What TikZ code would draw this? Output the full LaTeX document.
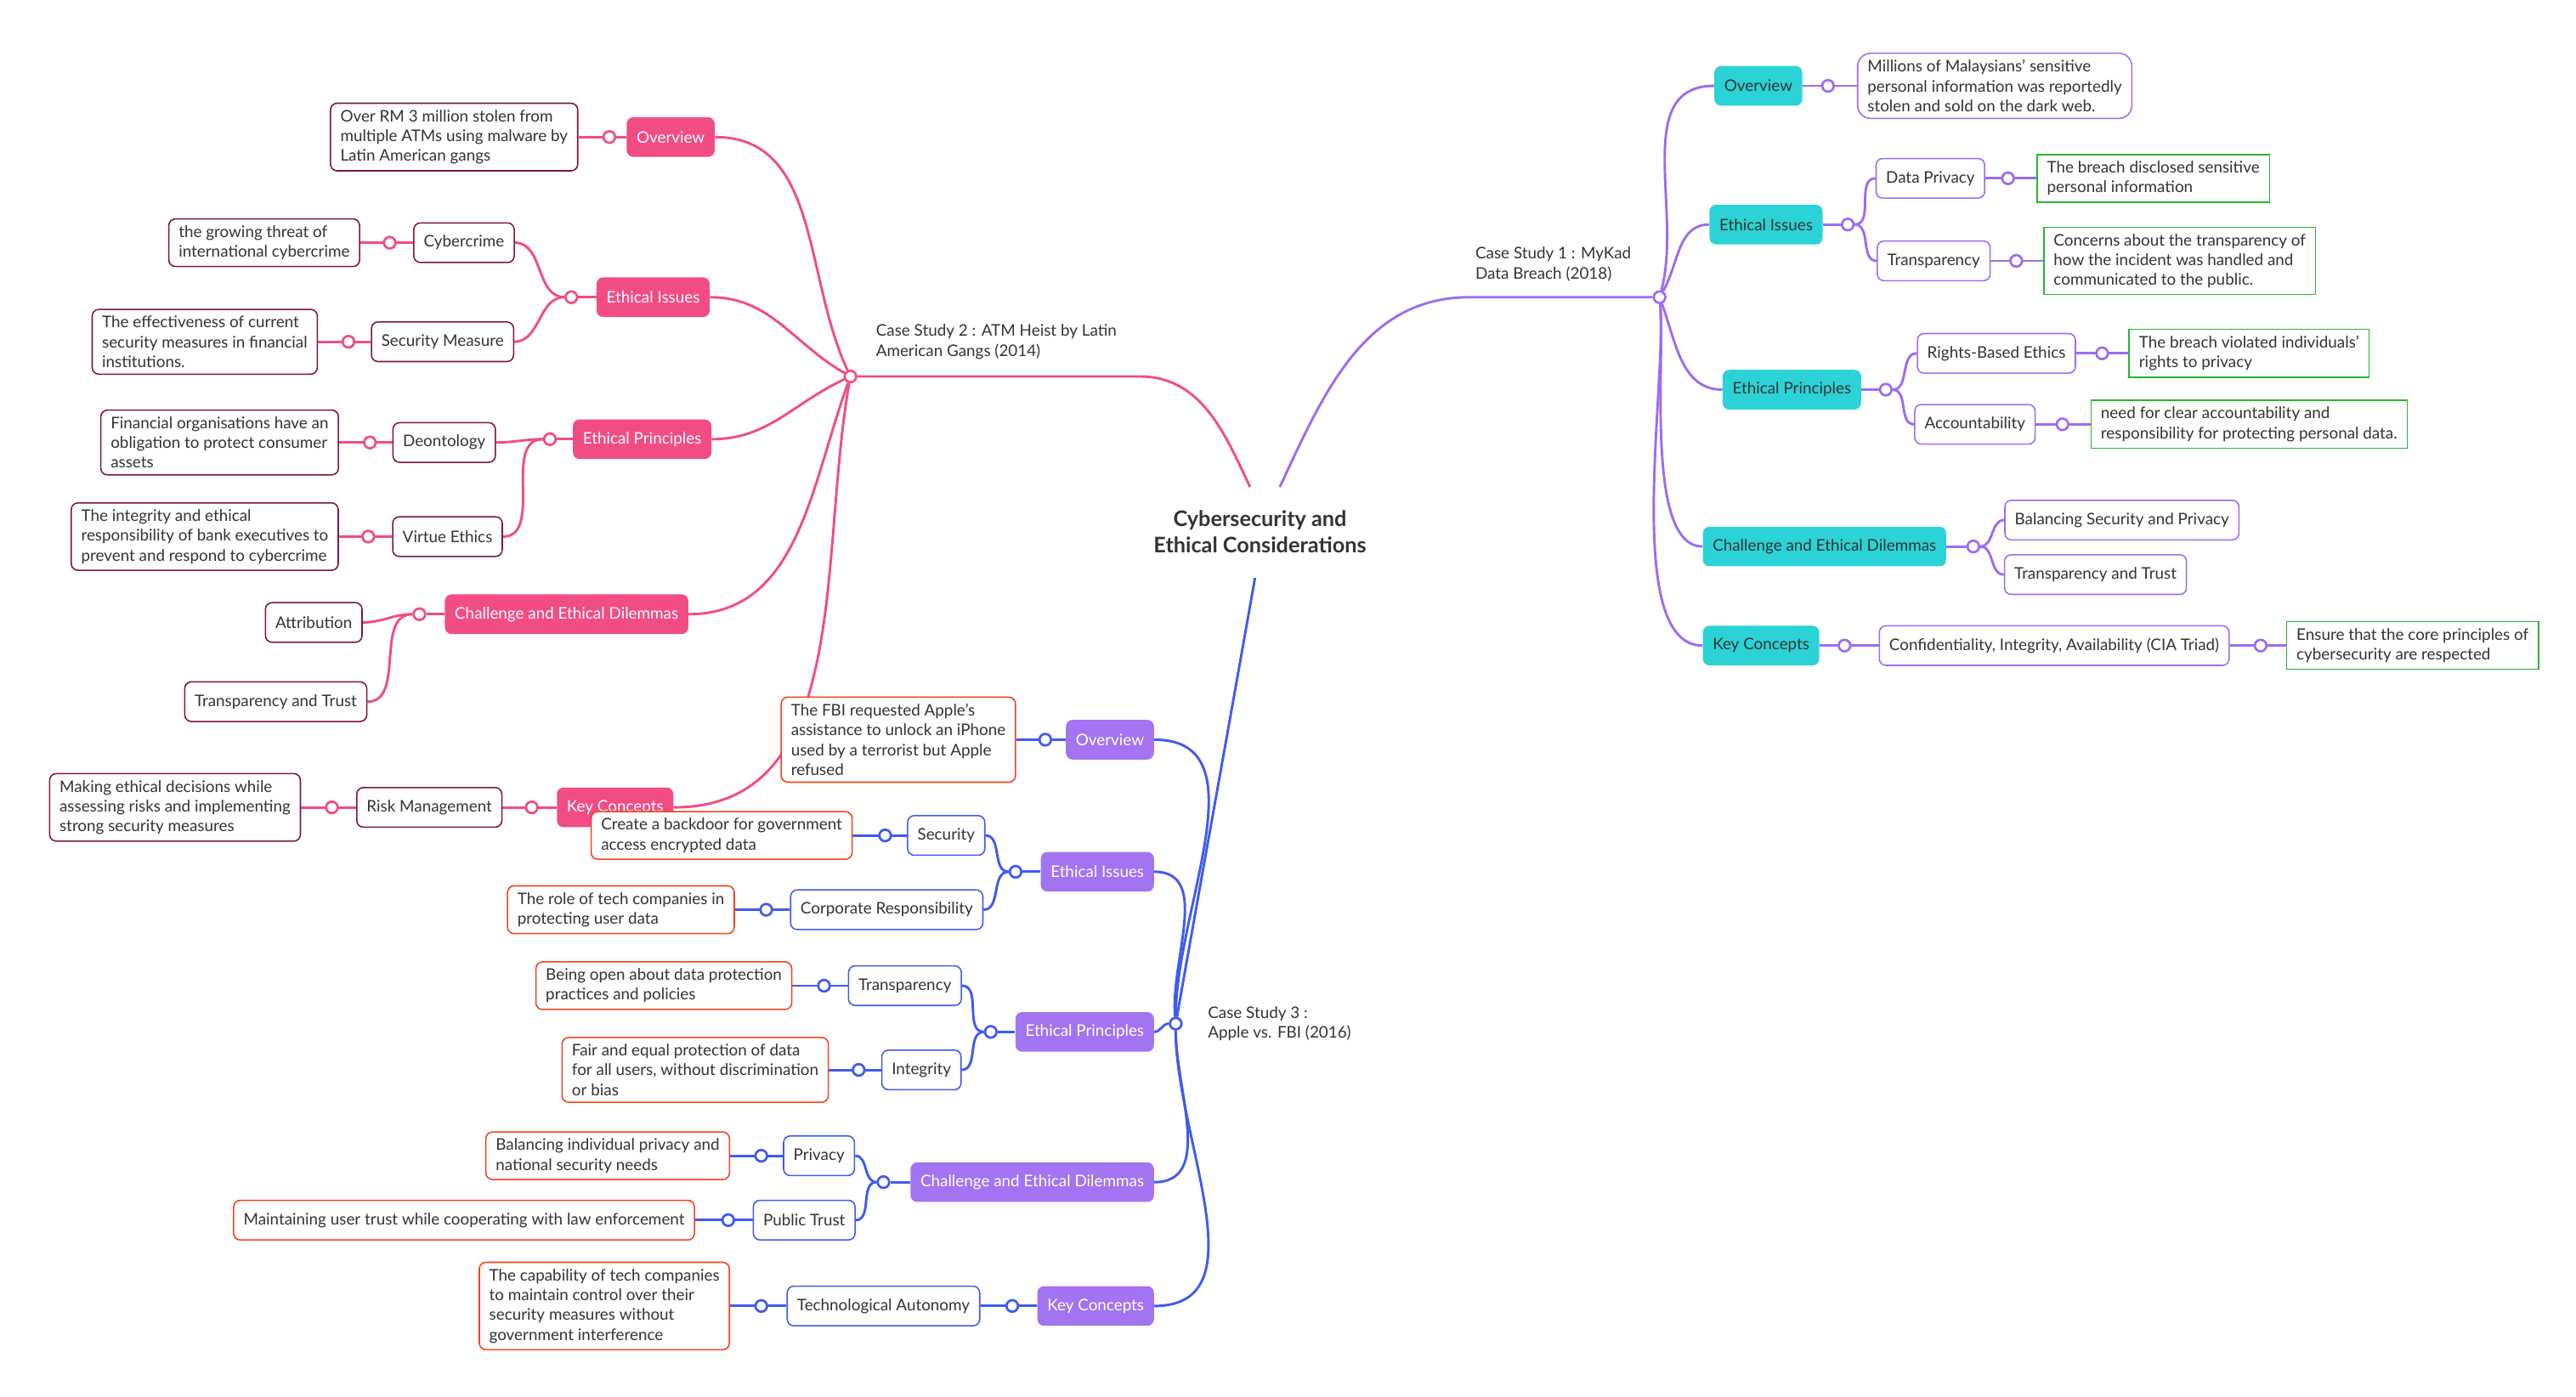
\documentclass[tikz,border=0pt]{standalone}
\usepackage{fontspec}
\setmainfont{Lato}
\usetikzlibrary{backgrounds}
\definecolor{teal1}{HTML}{2CD3D6}
\definecolor{pur1}{HTML}{9D6CF0}
\definecolor{pink2}{HTML}{F24C86}
\definecolor{dred}{HTML}{7E1736}
\definecolor{pur3}{HTML}{A274F1}
\definecolor{blue3}{HTML}{3F5BF0}
\definecolor{red3}{HTML}{F0431C}
\definecolor{grn}{HTML}{2BB52B}
\definecolor{txt}{HTML}{333333}
\tikzset{
 every node/.style={font=\fontsize{9.7}{12}\selectfont, text=txt},
 base/.style={rounded corners=4pt, inner xsep=6pt, inner ysep=4pt, minimum height=24pt},
 cat1/.style={base, fill=teal1},
 cat2/.style={base, fill=pink2, text=white},
 cat3/.style={base, fill=pur3, text=white},
 sub1/.style={base, draw=pur1, fill=white, line width=0.8pt},
 sub2/.style={base, draw=dred, fill=white, line width=0.8pt},
 sub3/.style={base, draw=blue3, fill=white, line width=0.8pt},
 lf1/.style={base, draw=grn, fill=white, rounded corners=0pt, align=left, line width=0.8pt},
 lfp/.style={base, draw=pur1, fill=white, rounded corners=8pt, align=left, line width=0.8pt},
 lf2/.style={base, draw=dred, fill=white, align=left, line width=0.8pt},
 lf3/.style={base, draw=red3, fill=white, align=left, line width=0.8pt},
 dot/.style={circle, draw, line width=1.4pt, fill=white, inner sep=0pt, minimum size=7pt},
 l1/.style={draw=pur1, line width=1.5pt},
 l2/.style={draw=pink2, line width=1.5pt},
 l3/.style={draw=blue3, line width=1.5pt},
 lab/.style={align=left, anchor=west},
}
\begin{document}
\begin{tikzpicture}[x=1pt,y=-1pt]
\useasboundingbox (0,0) rectangle (1560,846);
\node[font=\fontsize{13}{16}\selectfont\bfseries, align=center] (root) at (763,322) {Cybersecurity and\\Ethical Considerations};
\coordinate (r1) at (775,295);
\coordinate (r2) at (757,295);
\coordinate (r3) at (760,350);

% ---------- Case 1
\node[lab] (cs1) at (890,160) {Case Study 1 : MyKad\\Data Breach (2018)};
\coordinate (h1) at (890,180);
\node[dot, draw=pur1] (j1) at (1005,180) {};
\node[cat1, anchor=west] (o1) at (1038,52) {Overview};
\node[dot, draw=pur1] (o1c) at (1107,52) {};
\node[lfp] (o1l) at (1208,52) {Millions of Malaysians' sensitive\\personal information was reportedly\\stolen and sold on the dark web.};
\node[cat1, anchor=west] (e1) at (1035,136) {Ethical Issues};
\node[dot, draw=pur1] (e1c) at (1119,136) {};
\node[sub1] (dp) at (1169,108) {Data Privacy};
\node[dot, draw=pur1] (dpc) at (1216,108) {};
\node[lf1] (dpl) at (1304,108) {The breach disclosed sensitive\\personal information};
\node[sub1] (tr1) at (1171,158) {Transparency};
\node[dot, draw=pur1] (tr1c) at (1221,158) {};
\node[lf1] (tr1l) at (1320,158) {Concerns about the transparency of\\how the incident was handled and\\communicated to the public.};
\node[cat1, anchor=west] (p1) at (1043,236) {Ethical Principles};
\node[dot, draw=pur1] (p1c) at (1142,236) {};
\node[sub1] (rb) at (1209,214) {Rights-Based Ethics};
\node[dot, draw=pur1] (rbc) at (1273,214) {};
\node[lf1] (rbl) at (1362,214) {The breach violated individuals'\\rights to privacy};
\node[sub1] (ac) at (1196,257) {Accountability};
\node[dot, draw=pur1] (acc) at (1249,257) {};
\node[lf1] (acl) at (1362,257) {need for clear accountability and\\responsibility for protecting personal data.};
\node[cat1, anchor=west] (d1) at (1031,331) {Challenge and Ethical Dilemmas};
\node[dot, draw=pur1] (d1c) at (1195,331) {};
\node[sub1] (bs) at (1285,315) {Balancing Security and Privacy};
\node[sub1] (tt1) at (1269,348) {Transparency and Trust};
\node[cat1, anchor=west] (k1) at (1031,391) {Key Concepts};
\node[dot, draw=pur1] (k1c) at (1117,391) {};
\node[sub1] (cia) at (1244,391) {Confidentiality, Integrity, Availability (CIA Triad)};
\node[dot, draw=pur1] (ciac) at (1369,391) {};
\node[lf1] (cial) at (1461,391) {Ensure that the core principles of\\cybersecurity are respected};

% ---------- Case 2
\node[lab] (cs2) at (527,207) {Case Study 2 : ATM Heist by Latin\\American Gangs (2014)};
\coordinate (h2) at (690,228);
\node[dot, draw=pink2] (j2) at (515,228) {};
\node[cat2, anchor=east] (o2) at (433,83) {Overview};
\node[dot, draw=pink2] (o2c) at (369,83) {};
\node[lf2] (o2l) at (275,83) {Over RM 3 million stolen from\\multiple ATMs using malware by\\Latin American gangs};
\node[cat2, anchor=east] (e2) at (430,180) {Ethical Issues};
\node[dot, draw=pink2] (e2c) at (346,180) {};
\node[sub2] (cy) at (281,147) {Cybercrime};
\node[dot, draw=pink2] (cyc) at (236,147) {};
\node[lf2] (cyl) at (160,147) {the growing threat of\\international cybercrime};
\node[sub2] (sm) at (268,207) {Security Measure};
\node[dot, draw=pink2] (smc) at (211,207) {};
\node[lf2] (sml) at (124,207) {The effectiveness of current\\security measures in financial\\institutions.};
\node[cat2, anchor=east] (p2) at (431,266) {Ethical Principles};
\node[dot, draw=pink2] (p2c) at (333,266) {};
\node[sub2] (de) at (269,268) {Deontology};
\node[dot, draw=pink2] (dec) at (224,268) {};
\node[lf2] (del) at (133,268) {Financial organisations have an\\obligation to protect consumer\\assets};
\node[sub2] (ve) at (271,325) {Virtue Ethics};
\node[dot, draw=pink2] (vec) at (223,325) {};
\node[lf2] (vel) at (124,325) {The integrity and ethical\\responsibility of bank executives to\\prevent and respond to cybercrime};
\node[cat2, anchor=east] (d2) at (417,372) {Challenge and Ethical Dilemmas};
\node[dot, draw=pink2] (d2c) at (254,372) {};
\node[sub2] (at) at (190,377) {Attribution};
\node[sub2] (tt2) at (167,425) {Transparency and Trust};
\node[cat2, anchor=east] (k2) at (408,489) {Key Concepts};
\node[dot, draw=pink2] (k2c) at (322,489) {};
\node[sub2] (rm) at (260,489) {Risk Management};
\node[dot, draw=pink2] (rmc) at (201,489) {};
\node[lf2] (rml) at (106,489) {Making ethical decisions while\\assessing risks and implementing\\strong security measures};

% ---------- Case 3
\node[dot, draw=blue3] (j3) at (712,620) {};
\node[lab] (cs3) at (728,620) {Case Study 3 :\\Apple vs. FBI (2016)};
\node[cat3, anchor=east] (o3) at (699,448) {Overview};
\node[dot, draw=blue3] (o3c) at (633,448) {};
\node[lf3] (o3l) at (544,448) {The FBI requested Apple's\\assistance to unlock an iPhone\\used by a terrorist but Apple\\refused};
\node[cat3, anchor=east] (e3) at (699,528) {Ethical Issues};
\node[dot, draw=blue3] (e3c) at (615,528) {};
\node[sub3] (se) at (573,506) {Security};
\node[dot, draw=blue3] (sec) at (536,506) {};
\node[lf3] (sel) at (437,506) {Create a backdoor for government\\access encrypted data};
\node[sub3] (cr) at (537,551) {Corporate Responsibility};
\node[dot, draw=blue3] (crc) at (464,551) {};
\node[lf3] (crl) at (376,551) {The role of tech companies in\\protecting user data};
\node[cat3, anchor=east] (p3) at (699,625) {Ethical Principles};
\node[dot, draw=blue3] (p3c) at (600,625) {};
\node[sub3] (tr3) at (548,597) {Transparency};
\node[dot, draw=blue3] (tr3c) at (499,597) {};
\node[lf3] (tr3l) at (402,597) {Being open about data protection\\practices and policies};
\node[sub3] (in) at (558,648) {Integrity};
\node[dot, draw=blue3] (inc) at (520,648) {};
\node[lf3] (inl) at (421,648) {Fair and equal protection of data\\for all users, without discrimination\\or bias};
\node[cat3, anchor=east] (d3) at (699,716) {Challenge and Ethical Dilemmas};
\node[dot, draw=blue3] (d3c) at (535,716) {};
\node[sub3] (pr) at (496,700) {Privacy};
\node[dot, draw=blue3] (prc) at (461,700) {};
\node[lf3] (prl) at (368,700) {Balancing individual privacy and\\national security needs};
\node[sub3] (pt) at (487,739) {Public Trust};
\node[dot, draw=blue3] (ptc) at (441,739) {};
\node[lf3] (ptl) at (281,739) {Maintaining user trust while cooperating with law enforcement};
\node[cat3, anchor=east] (k3) at (699,791) {Key Concepts};
\node[dot, draw=blue3] (k3c) at (613,791) {};
\node[sub3] (ta) at (535,791) {Technological Autonomy};
\node[dot, draw=blue3] (tac) at (461,791) {};
\node[lf3] (tal) at (366,791) {The capability of tech companies\\to maintain control over their\\security measures without\\government interference};

\begin{pgfonlayer}{background}
% case 1
\draw[l1] (r1) to[out=65,in=180] (h1) -- (j1);
\draw[l1] (j1) to[out=75,in=180] (o1.west);
\draw[l1] (j1) to[out=60,in=180] (e1.west);
\draw[l1] (j1) to[out=-70,in=180] (p1.west);
\draw[l1] (j1) to[out=-85,in=180,looseness=0.6] (d1.west);
\draw[l1] (j1) to[out=-85,in=180,looseness=0.6] (k1.west);
\draw[l1] (o1.east) -- (o1l.west);
\draw[l1] (e1.east) -- (e1c);
\draw[l1] (e1c) to[out=0,in=180] (dp.west);
\draw[l1] (e1c) to[out=0,in=180] (tr1.west);
\draw[l1] (dp.east) -- (dpl.west);
\draw[l1] (tr1.east) -- (tr1l.west);
\draw[l1] (p1.east) -- (p1c);
\draw[l1] (p1c) to[out=0,in=180] (rb.west);
\draw[l1] (p1c) to[out=0,in=180] (ac.west);
\draw[l1] (rb.east) -- (rbl.west);
\draw[l1] (ac.east) -- (acl.west);
\draw[l1] (d1.east) -- (d1c);
\draw[l1] (d1c) to[out=0,in=180] (bs.west);
\draw[l1] (d1c) to[out=0,in=180] (tt1.west);
\draw[l1] (k1.east) -- (cia.west);
\draw[l1] (cia.east) -- (cial.west);
% case 2
\draw[l2] (r2) to[out=115,in=0] (h2) -- (j2);
\draw[l2] (j2) to[out=115,in=0] (o2.east);
\draw[l2] (j2) to[out=150,in=0] (e2.east);
\draw[l2] (j2) to[out=-155,in=0] (p2.east);
\draw[l2] (j2) to[out=-110,in=0] (d2.east);
\draw[l2] (j2) to[out=-100,in=0] (k2.east);
\draw[l2] (o2.west) -- (o2l.east);
\draw[l2] (e2.west) -- (e2c);
\draw[l2] (e2c) to[out=180,in=0] (cy.east);
\draw[l2] (e2c) to[out=180,in=0] (sm.east);
\draw[l2] (cy.west) -- (cyl.east);
\draw[l2] (sm.west) -- (sml.east);
\draw[l2] (p2.west) -- (p2c);
\draw[l2] (p2c) to[out=180,in=0] (de.east);
\draw[l2] (p2c) to[out=180,in=0] (ve.east);
\draw[l2] (de.west) -- (del.east);
\draw[l2] (ve.west) -- (vel.east);
\draw[l2] (d2.west) -- (d2c);
\draw[l2] (d2c) to[out=180,in=0] (at.east);
\draw[l2] (d2c) to[out=180,in=0] (tt2.east);
\draw[l2] (k2.west) -- (rm.east);
\draw[l2] (rm.west) -- (rml.east);
% case 3
\draw[l3] (r3) to[out=-100,in=80] (j3);
\draw[l3] (j3) to[out=90,in=0] (o3.east);
\draw[l3] (j3) to[out=95,in=0] (e3.east);
\draw[l3] (j3) to[out=180,in=0] (p3.east);
\draw[l3] (j3) to[out=-90,in=0] (d3.east);
\draw[l3] (j3) to[out=-90,in=0] (k3.east);
\draw[l3] (o3.west) -- (o3l.east);
\draw[l3] (e3.west) -- (e3c);
\draw[l3] (e3c) to[out=180,in=0] (se.east);
\draw[l3] (e3c) to[out=180,in=0] (cr.east);
\draw[l3] (se.west) -- (sel.east);
\draw[l3] (cr.west) -- (crl.east);
\draw[l3] (p3.west) -- (p3c);
\draw[l3] (p3c) to[out=180,in=0] (tr3.east);
\draw[l3] (p3c) to[out=180,in=0] (in.east);
\draw[l3] (tr3.west) -- (tr3l.east);
\draw[l3] (in.west) -- (inl.east);
\draw[l3] (d3.west) -- (d3c);
\draw[l3] (d3c) to[out=180,in=0] (pr.east);
\draw[l3] (d3c) to[out=180,in=0] (pt.east);
\draw[l3] (pr.west) -- (prl.east);
\draw[l3] (pt.west) -- (ptl.east);
\draw[l3] (k3.west) -- (ta.east);
\draw[l3] (ta.west) -- (tal.east);
\end{pgfonlayer}
\end{tikzpicture}
\end{document}
